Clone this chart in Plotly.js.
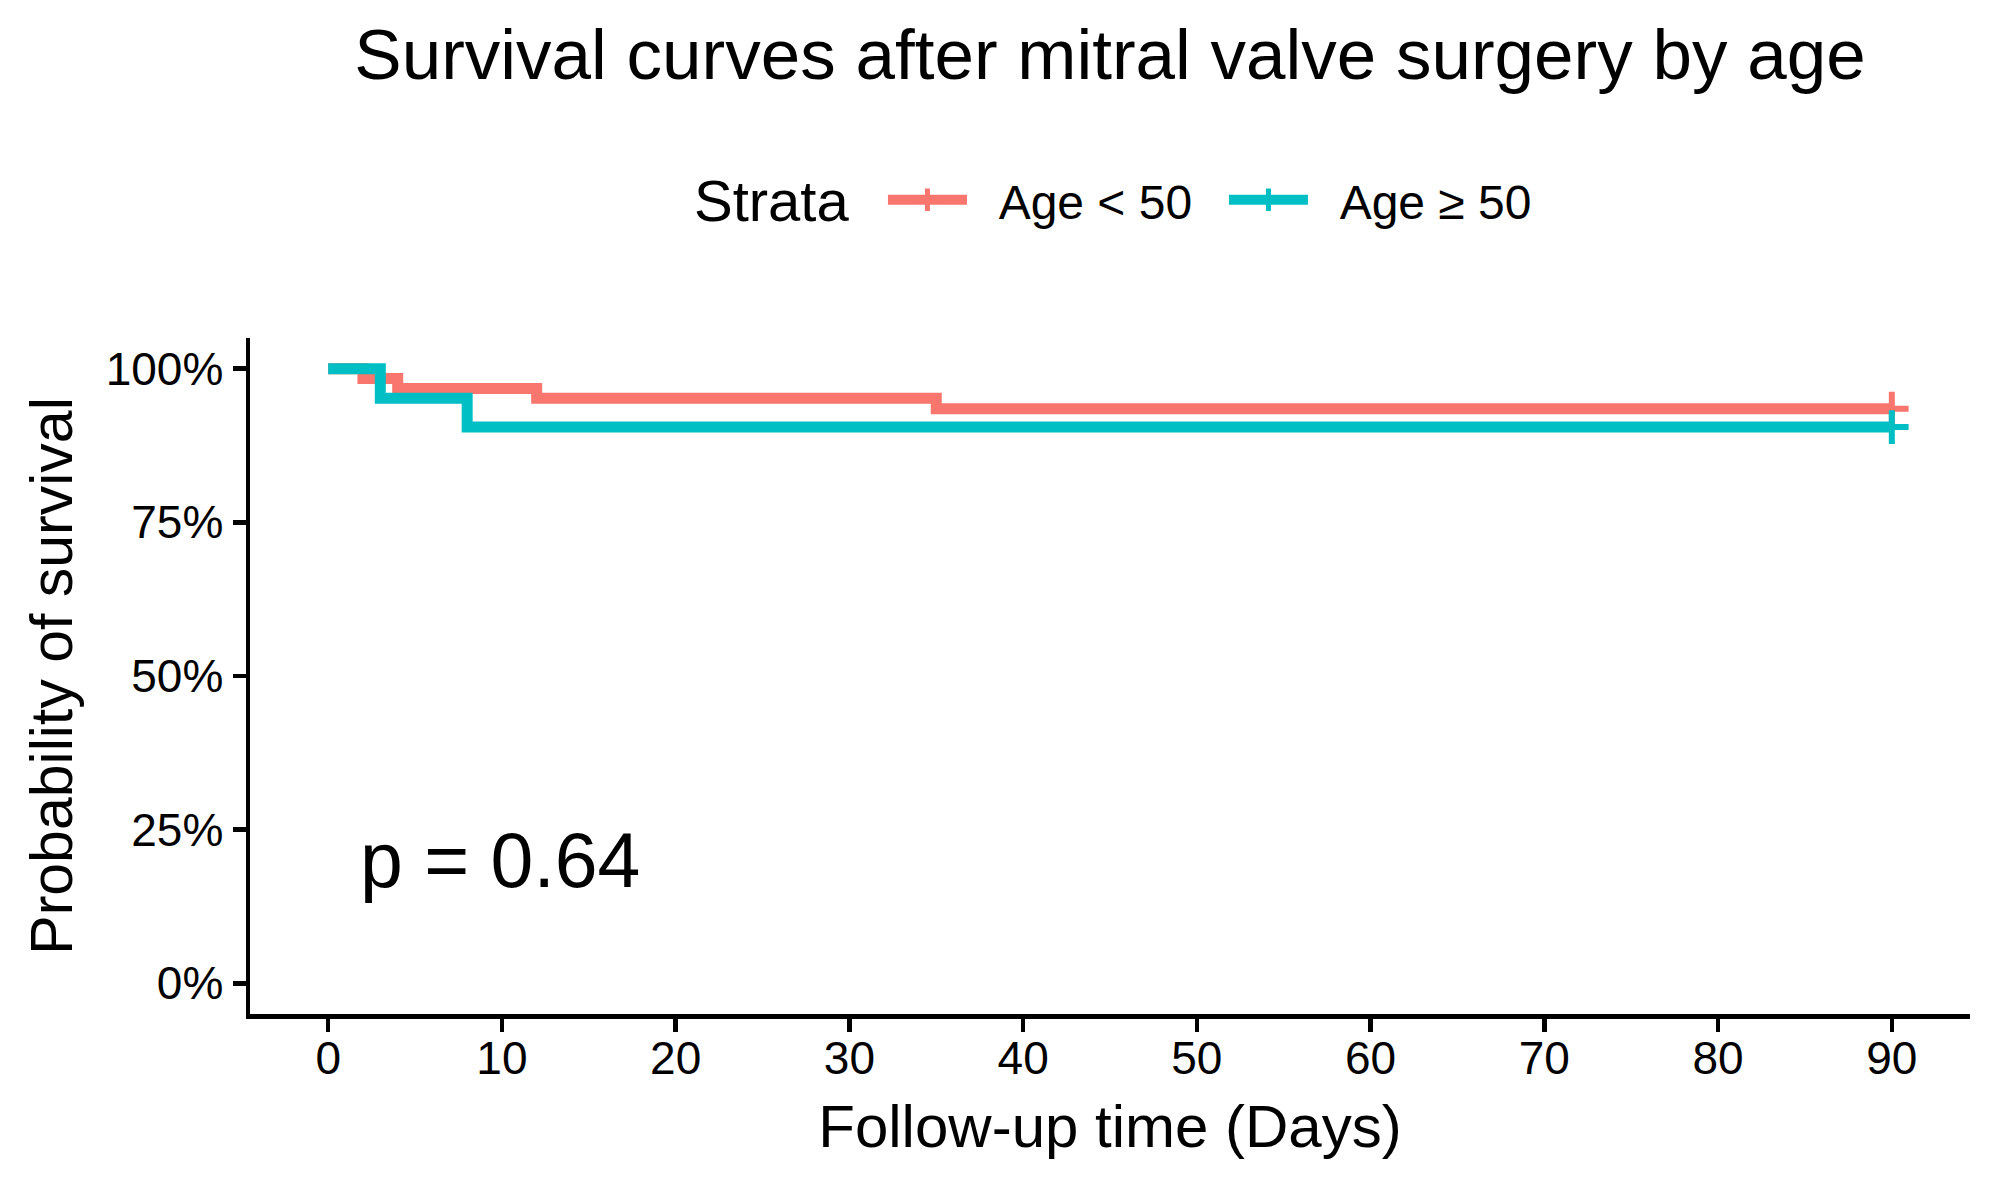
<!DOCTYPE html>
<html>
<head>
<meta charset="utf-8">
<script src="https://cdn.plot.ly/plotly-3.0.1.min.js"></script>
<style>
  html, body { margin: 0; padding: 0; background: #ffffff; }
  #chart { width: 2000px; height: 1187px; }
</style>
</head>
<body>
<div id="chart"></div>
<script>
// ---- Data ----
const strataNames = ["Age < 50", "Age \u2265 50"];
const strataColors = ["#F8766D", "#00BFC4"];

const timeYoung = [0, 2, 4, 12, 35, 90];
const survYoung = [1.0, 0.984, 0.968, 0.952, 0.935, 0.935];
const censorTimeYoung = [90];
const censorSurvYoung = [0.935];

const timeOld = [0, 3, 8, 90];
const survOld = [1.0, 0.952, 0.905, 0.905];
const censorTimeOld = [90];
const censorSurvOld = [0.905];

const xTickVals = [0, 10, 20, 30, 40, 50, 60, 70, 80, 90];
const yTickVals = [0, 0.25, 0.5, 0.75, 1.0];
const yTickText = ["0%", "25%", "50%", "75%", "100%"];

const pvalText = "p = 0.64";
const pvalX = 1.7;
const pvalY = 0.2;

const titleText = "Survival curves after mitral valve surgery by age";
const xTitleText = "Follow-up time (Days)";
const yTitleText = "Probability of survival";
const legendTitleText = "Strata";

// ---- Traces ----
const FONT = "Liberation Sans, Arial, Helvetica, sans-serif";
const LW = 11;
const PAD = "\u00A0\u00A0"; // small gap between legend key and label

function stepTrace(x, y, color, name, group) {
  return {
    type: "scatter", mode: "lines", x: x, y: y,
    line: { shape: "hv", color: color, width: LW },
    name: name, legendgroup: group, showlegend: false, hoverinfo: "skip"
  };
}
function censorTrace(x, y, color, name, group, rank) {
  return {
    type: "scatter", mode: "lines+markers", x: x, y: y,
    line: { color: color, width: LW },
    marker: { symbol: "cross-thin", size: 24, color: color, line: { color: color, width: 6 } },
    name: PAD + name, legendgroup: group, showlegend: true, legendrank: rank, hoverinfo: "skip"
  };
}

const data = [
  stepTrace(timeYoung, survYoung, strataColors[0], strataNames[0], "g1"),
  censorTrace(censorTimeYoung, censorSurvYoung, strataColors[0], strataNames[0], "g1", 1),
  stepTrace(timeOld, survOld, strataColors[1], strataNames[1], "g2"),
  censorTrace(censorTimeOld, censorSurvOld, strataColors[1], strataNames[1], "g2", 2)
];

const layout = {
  width: 2000, height: 1187,
  paper_bgcolor: "#ffffff", plot_bgcolor: "#ffffff",
  margin: { l: 250, r: 30, t: 338, b: 173 },
  font: { family: FONT, color: "#000000", size: 46 },
  title: {
    text: titleText,
    font: { family: FONT, size: 71, color: "#000000" },
    x: 0.5, xref: "paper", xanchor: "center",
    y: 1 - 54 / 1187, yref: "container", yanchor: "middle"
  },
  showlegend: true,
  legend: {
    orientation: "h",
    x: 0.368, xanchor: "left",
    y: 1.204, yanchor: "middle",
    font: { family: FONT, size: 48, color: "#000000" },
    itemwidth: 79,
    entrywidth: 247, entrywidthmode: "pixels",
    itemsizing: "trace",
    traceorder: "normal",
    bgcolor: "rgba(0,0,0,0)"
  },
  xaxis: {
    range: [-4.5, 94.5],
    tickmode: "array", tickvals: xTickVals,
    ticks: "outside", ticklen: 13, tickwidth: 4.5, tickcolor: "#000000",
    tickfont: { family: FONT, size: 46, color: "#000000" },
    ticklabelstandoff: -13,
    showline: true, linecolor: "#000000", linewidth: 4.5,
    showgrid: false, zeroline: false,
    title: { text: xTitleText, font: { family: FONT, size: 60, color: "#000000" }, standoff: 24 }
  },
  yaxis: {
    range: [-0.05, 1.05],
    tickmode: "array", tickvals: yTickVals, ticktext: yTickText,
    ticks: "outside", ticklen: 13, tickwidth: 4.5, tickcolor: "#000000",
    tickfont: { family: FONT, size: 46, color: "#000000" },
    ticklabelstandoff: 0,
    showline: true, linecolor: "#000000", linewidth: 4.5,
    showgrid: false, zeroline: false,
    title: { text: yTitleText, font: { family: FONT, size: 59, color: "#000000" }, standoff: 15 }
  },
  annotations: [
    {
      text: pvalText, x: pvalX, y: pvalY, xref: "x", yref: "y",
      xanchor: "left", yanchor: "middle", showarrow: false,
      font: { family: FONT, size: 77, color: "#000000" }
    },
    {
      text: legendTitleText, x: (692 - 250) / 1720, y: 1.204, xref: "paper", yref: "paper",
      xanchor: "left", yanchor: "middle", showarrow: false,
      font: { family: FONT, size: 58, color: "#000000" }
    }
  ]
};

Plotly.newPlot("chart", data, layout, { displayModeBar: false, staticPlot: true });
</script>
</body>
</html>
